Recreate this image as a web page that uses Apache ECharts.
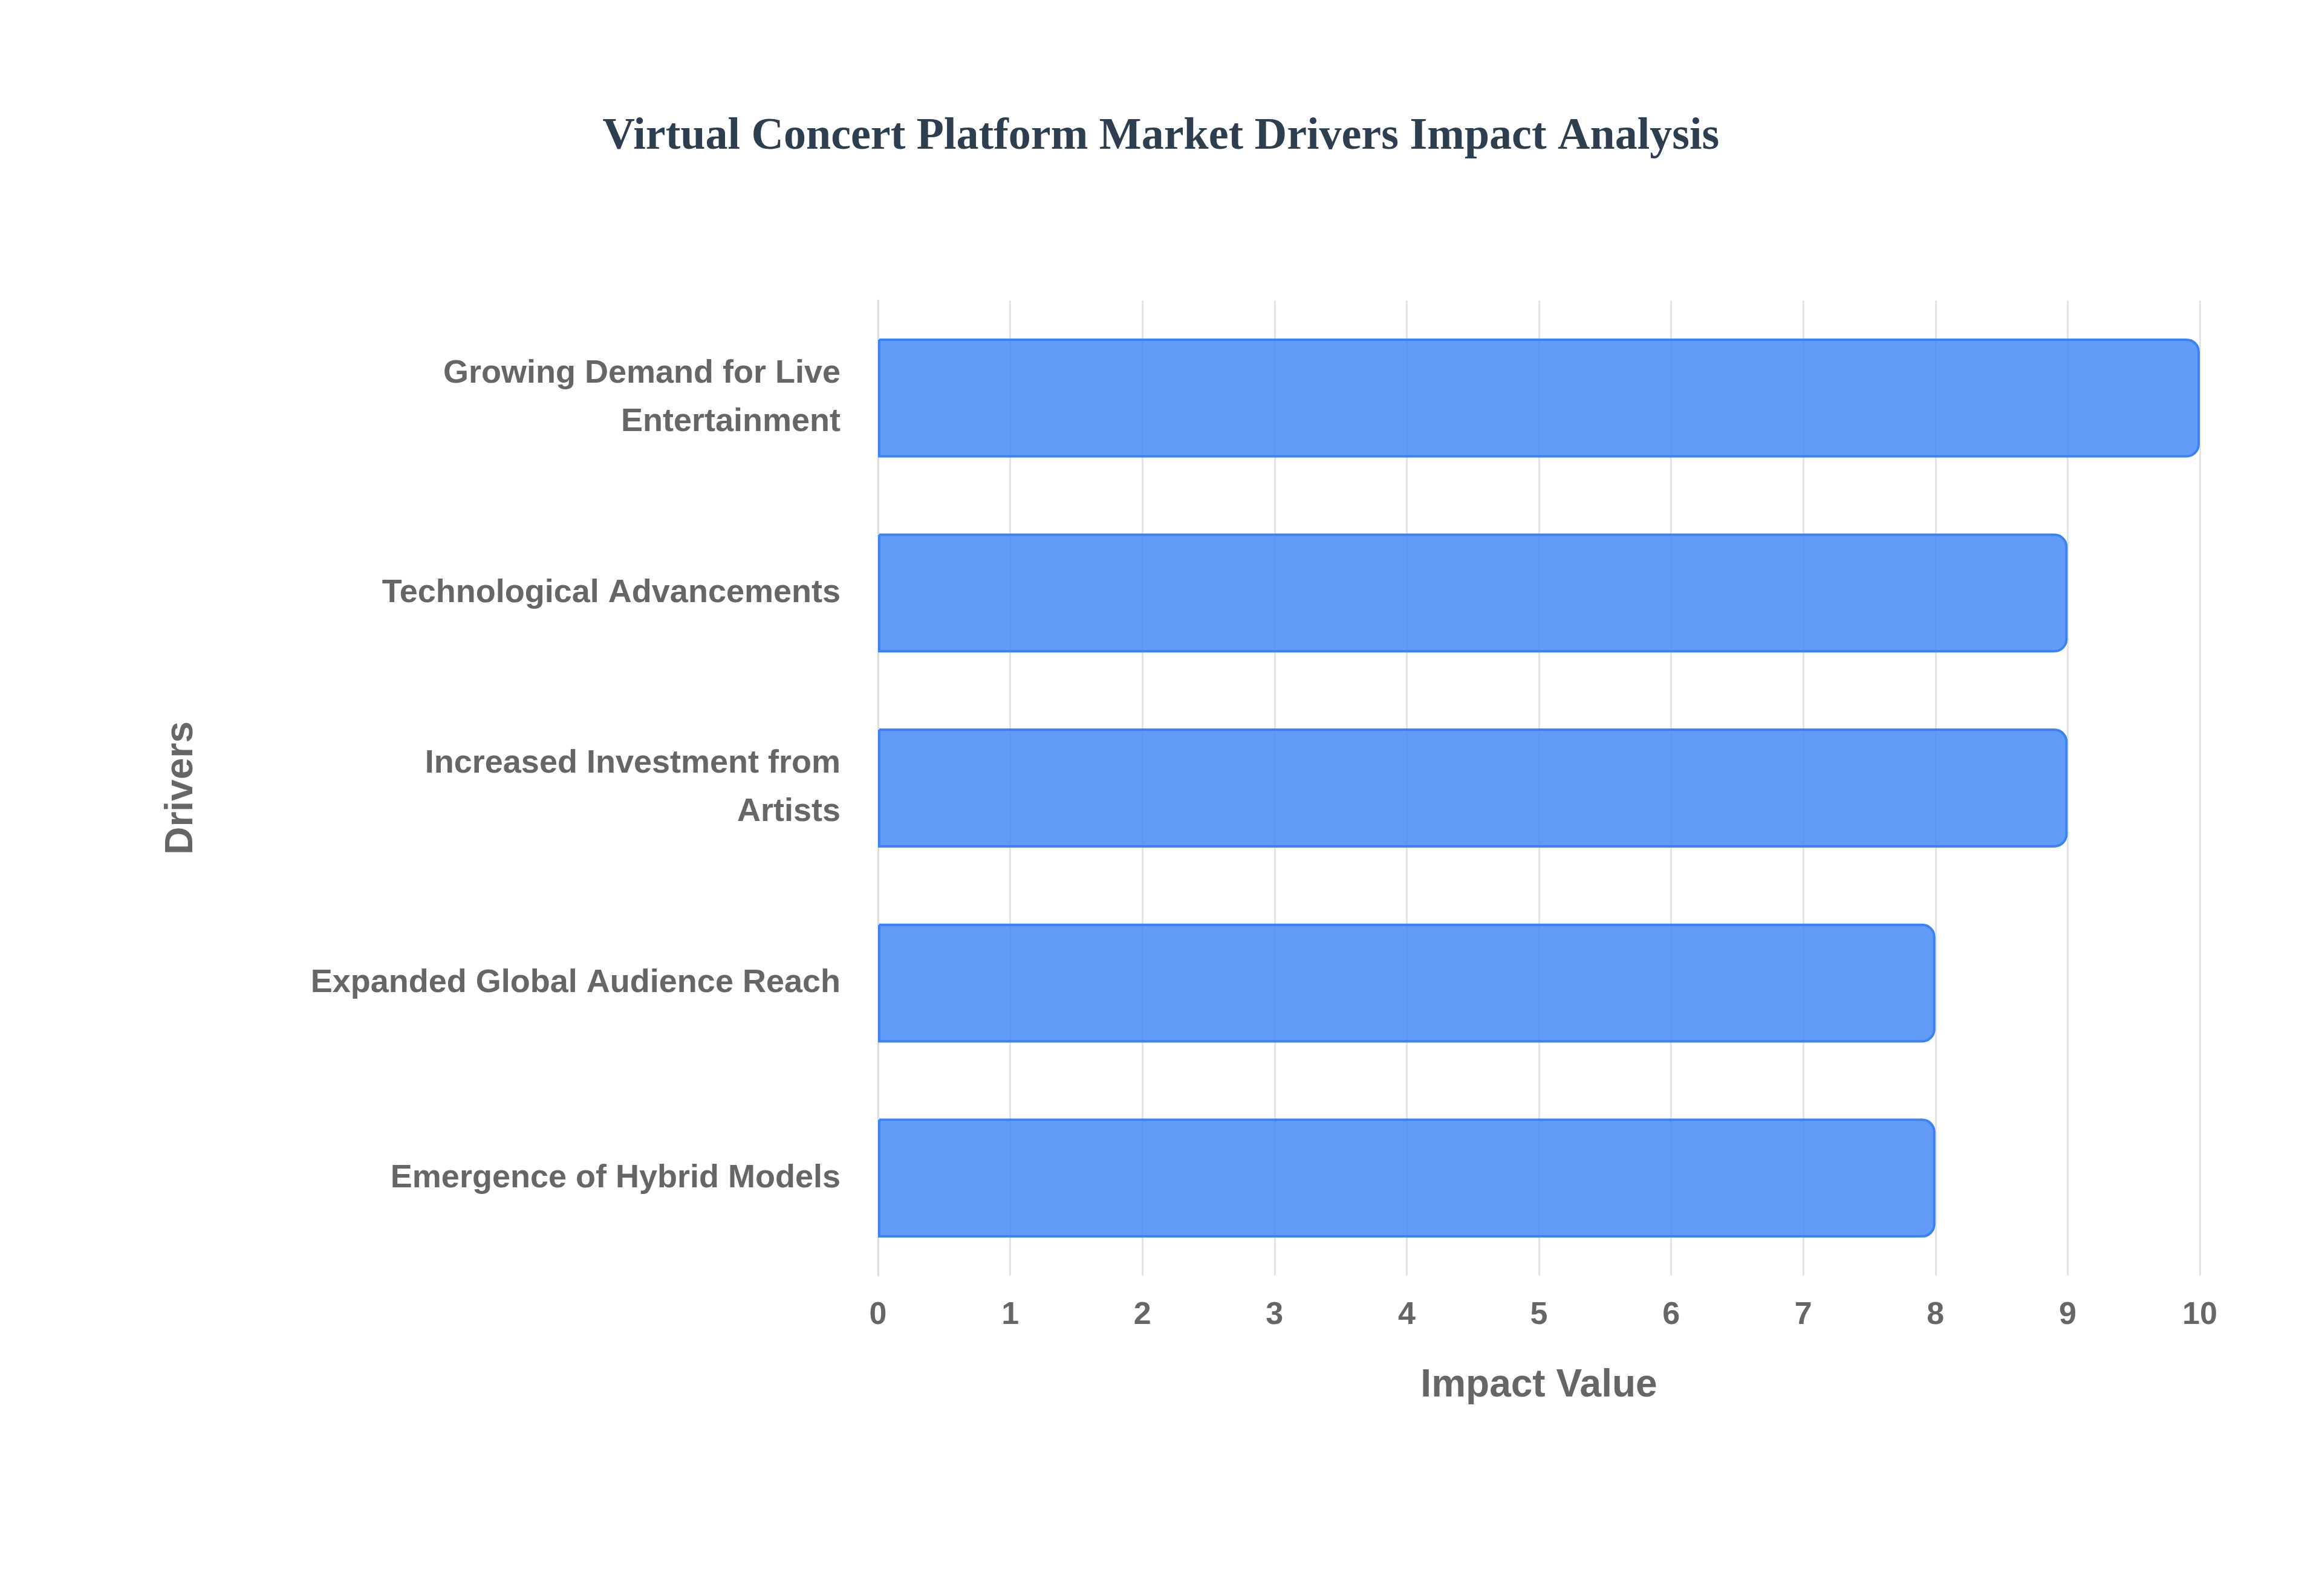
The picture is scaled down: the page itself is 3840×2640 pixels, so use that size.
<!DOCTYPE html>
<html>
<head>
<meta charset="utf-8">
<script src="https://cdn.jsdelivr.net/npm/echarts@6/dist/echarts.min.js"></script>
<style>html,body{margin:0;padding:0;background:#fff}#chart{width:3840px;height:2640px}</style>
</head>
<body>
<div id="chart"></div>
<script>
var drivers = ['Growing Demand for Live\nEntertainment', 'Technological Advancements', 'Increased Investment from\nArtists', 'Expanded Global Audience Reach', 'Emergence of Hybrid Models'];
var impactValues = [10, 9, 9, 8, 8];
var xTicks = [0, 10, 1];

var myChart = echarts.init(document.getElementById('chart'));
var labelFont = {color: '#666', fontFamily: 'Liberation Sans', fontWeight: 'bold'};
var option = {
    title: {
        text: 'Virtual Concert Platform Market Drivers Impact Analysis',
        left: 'center', top: 185,
        textStyle: {fontFamily: 'Liberation Serif', fontWeight: 'bold', fontSize: 74, color: '#2c3e50'}
    },
    grid: {left: 1452, right: 202, top: 497, bottom: 530},
    xAxis: {
        type: 'value', min: xTicks[0], max: xTicks[1], interval: xTicks[2],
        name: 'Impact Value', nameLocation: 'middle', nameGap: 150,
        nameTextStyle: Object.assign({fontSize: 64}, labelFont),
        axisLabel: Object.assign({fontSize: 52, margin: 40}, labelFont),
        axisLine: {show: false}, axisTick: {show: false},
        splitLine: {lineStyle: {color: '#e5e5e5', width: 3}}
    },
    yAxis: {
        type: 'category', data: drivers, inverse: true,
        name: 'Drivers', nameLocation: 'middle', nameGap: 1120,
        nameTextStyle: Object.assign({fontSize: 64}, labelFont),
        axisLabel: Object.assign({fontSize: 54, margin: 62, lineHeight: 80, align: 'right'}, labelFont),
        axisLine: {lineStyle: {color: '#ddd', width: 3}}, axisTick: {show: false}
    },
    series: [{
        type: 'bar', data: impactValues, barWidth: '61%',
        itemStyle: {color: 'rgba(59,130,246,0.8)', borderColor: '#3b82f6', borderWidth: 4, borderRadius: [0, 20, 20, 0]}
    }]
};
myChart.setOption(option);
</script>
</body>
</html>
